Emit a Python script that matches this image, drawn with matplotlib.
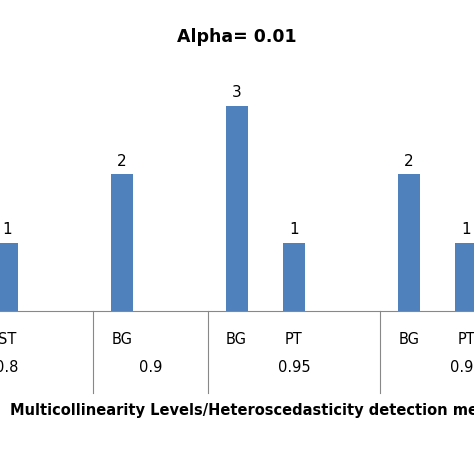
import matplotlib.pyplot as plt

# slot index, method label, count
slots = [0, 2, 4, 5, 7, 8]
methods = ["ST", "BG", "BG", "PT", "BG", "PT"]
counts = [1, 2, 3, 1, 2, 1]
levels = ["0.8", "0.9", "0.95", "0.99"]
level_pos = [0, 2.5, 5, 8]
separators = [1.5, 3.5, 6.5]

fig = plt.figure(figsize=(4.74, 4.74), dpi=100)
ax = fig.add_axes([0, 0.344, 1, 0.852 - 0.344])
ax.set_xlim(-0.122, 8.136)
ax.set_ylim(0, 3.52)

ax.bar(slots, counts, width=0.38, color="#4F81BD")
for x, c in zip(slots, counts):
    ax.text(x, c + 0.08, str(c), ha="center", va="bottom", fontsize=11)

for s in ["top", "right", "left", "bottom"]:
    ax.spines[s].set_visible(False)
ax.set_xticks([])
ax.set_yticks([])
ax.axhline(0, color="#888888", lw=0.8, clip_on=False)

for s in separators:
    ax.plot([s, s], [0, -1.2], color="#888888", lw=0.8, clip_on=False)
for x, m in zip(slots, methods):
    ax.text(x, -0.42, m, ha="center", va="center", fontsize=10.5, clip_on=False)
for x, l in zip(level_pos, levels):
    ax.text(x, -0.82, l, ha="center", va="center", fontsize=10.5, clip_on=False)

fig.text(10 / 474, 1 - 410 / 474, "Multicollinearity Levels/Heteroscedasticity detection methods",
         ha="left", va="center", fontsize=10.5, fontweight="bold")
fig.text(0.5, 1 - 37 / 474, "Alpha= 0.01", ha="center", va="center",
         fontsize=12.5, fontweight="bold")

fig.savefig("out.png", dpi=100)
